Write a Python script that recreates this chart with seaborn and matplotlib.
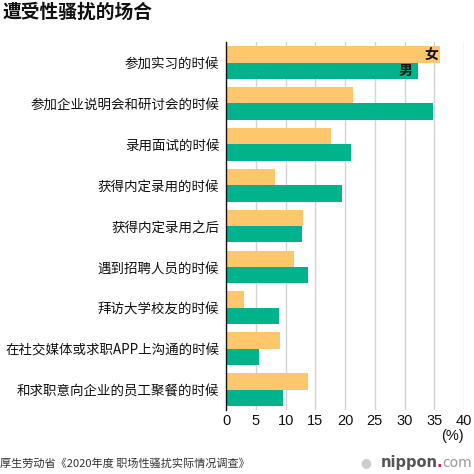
import matplotlib
matplotlib.use("Agg")
import matplotlib.pyplot as plt
import seaborn as sns
import pandas as pd

# data (percent)
categories = [
    "参加实习的时候",
    "参加企业说明会和研讨会的时候",
    "录用面试的时候",
    "获得内定录用的时候",
    "获得内定录用之后",
    "遇到招聘人员的时候",
    "拜访大学校友的时候",
    "在社交媒体或求职APP上沟通的时候",
    "和求职意向企业的员工聚餐的时候",
]
female = [35.9, 21.4, 17.6, 8.3, 12.9, 11.4, 3.0, 9.1, 13.7]
male = [32.3, 34.7, 21.0, 19.4, 12.8, 13.7, 8.9, 5.5, 9.6]
xticks = [0, 5, 10, 15, 20, 25, 30, 35, 40]

df = pd.DataFrame({
    "场合": categories * 2,
    "值": female + male,
    "性别": ["女"] * len(categories) + ["男"] * len(categories),
})

sns.set_theme(style="white")
plt.rcParams["font.family"] = ["Noto Sans CJK SC", "DejaVu Sans"]

fig = plt.figure(figsize=(4.74, 4.74), dpi=100)
ax = fig.add_axes([0.477, 0.135, 0.502, 0.776])

palette = {"女": "#FFC76B", "男": "#00B38B"}
sns.barplot(data=df, y="场合", x="值", hue="性别", palette=palette,
            order=categories, hue_order=["女", "男"], width=0.8,
            ax=ax, legend=False, saturation=1, linewidth=0)

ax.set_xlim(0, 40)
ax.set_xticks(xticks)
ax.set_xticklabels([str(t) for t in xticks], fontsize=10.5, color="#111111",
                   family=["Liberation Sans", "DejaVu Sans"])
ax.set_xlabel("")
ax.set_ylabel("")
ax.tick_params(axis="y", length=0, labelsize=9.7, pad=5, colors="#111111")
for lab in ax.get_yticklabels():
    lab.set_fontweight("medium")
ax.tick_params(axis="x", length=0, pad=3)
ax.grid(axis="x", color="#d4d4d4", linewidth=1)
ax.set_axisbelow(True)
for s in ["top", "right", "bottom"]:
    ax.spines[s].set_visible(False)
ax.spines["left"].set_color("#111111")
ax.spines["left"].set_linewidth(1)

# gender labels inside first bars
bar_h = 0.4
ax.text(female[0] - 0.3, 0 - bar_h / 2, "女", ha="right", va="center",
        fontsize=10, fontweight="bold", color="#111111")
ax.text(male[0] - 1.0, 0 + bar_h / 2, "男", ha="right", va="center",
        fontsize=10, fontweight="bold", color="#111111")

fig.text(0.979, 0.080, "(%)", ha="right", va="center", fontsize=10.5,
         color="#111111", family=["Liberation Sans", "DejaVu Sans"])

fig.text(0.006, 0.973, "遭受性骚扰的场合", ha="left", va="center",
         fontsize=13.5, fontweight="bold", color="#111111")

fig.text(0.0, 0.022, "厚生劳动省《2020年度 职场性骚扰实际情况调查》", ha="left",
         va="center", fontsize=8, color="#333333")

# nippon.com logo
fig.text(366 / 474, 0.024, "●", ha="center", va="center", fontsize=9,
         color="#cccccc", family=["DejaVu Sans"])
fig.text(381 / 474, 0.024, "nippon", ha="left", va="center", fontsize=10.5,
         fontweight="bold", color="#555555", family=["DejaVu Sans"])
fig.text(437 / 474, 0.024, ".", ha="left", va="center", fontsize=10.5,
         fontweight="bold", color="#d7263d", family=["DejaVu Sans"])
fig.text(442 / 474, 0.024, "com", ha="left", va="center", fontsize=10,
         color="#9a9a9a", family=["DejaVu Sans"])

fig.savefig("out.png", dpi=100)
